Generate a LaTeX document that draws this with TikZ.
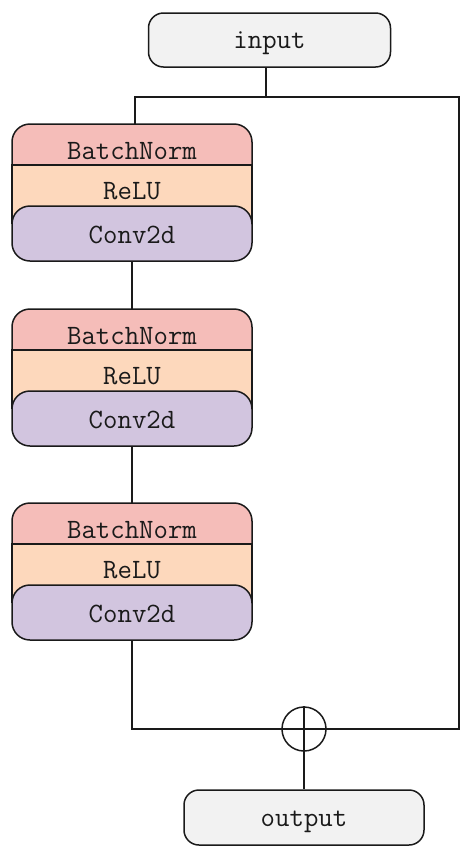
\documentclass[tikz,border=0pt]{standalone}
\usepackage{fontspec}
\definecolor{bnc}{HTML}{F5BDB9}
\definecolor{reluc}{HTML}{FDD8BC}
\definecolor{convc}{HTML}{D2C5DF}
\definecolor{ioc}{HTML}{F2F2F2}
\definecolor{linec}{HTML}{1A1A1A}
\tikzset{
  lbl/.style={font=\ttfamily\fontsize{28pt}{30pt}\selectfont, text=linec, inner sep=0pt, minimum width=240pt},
  iobox/.style={lbl, draw=linec, fill=ioc, rounded corners=15pt, line width=1.5pt},
  convbox/.style={lbl, draw=linec, fill=convc, rounded corners=18pt, line width=1.5pt, minimum height=55pt, text height=22pt, text depth=3pt},
  wire/.style={draw=linec, line width=1.5pt},
}
\newcommand\resblock[2]{%
  \draw[wire, fill=bnc, rounded corners=18pt] (12,#1) rectangle (252,#1+60);
  \fill[reluc] (12,#1+41) rectangle (252,#1+100);
  \draw[wire] (12,#1+100) -- (12,#1+41) -- (252,#1+41) -- (252,#1+100);
  \node[lbl, minimum height=41pt, text height=32pt, text depth=3pt] (bn#2) at (132,#1+20.5) {BatchNorm};
  \node[lbl, minimum height=41pt, text height=30pt, text depth=3pt] (relu#2) at (132,#1+61.5) {ReLU};
  \node[convbox] (conv#2) at (132,#1+109.5) {Conv2d};
}
\begin{document}
\begin{tikzpicture}[x=1pt,y=-1pt]
\useasboundingbox (0,0) rectangle (474,855);
\node[iobox, minimum width=242pt, minimum height=54pt, text height=22pt, text depth=6pt] (in) at (269.5,40) {input};
\resblock{124}{1}
\resblock{309}{2}
\resblock{503}{3}
\node[draw=linec, line width=1.5pt, circle, minimum size=44pt, inner sep=0pt] (sum) at (304,729) {};
\node[iobox, minimum width=240pt, minimum height=55pt, text height=23pt, text depth=6pt] (out) at (304,817.5) {output};
\coordinate (rt) at (459,97);
\coordinate (rb) at (459,729);
\draw[wire] ([xshift=-3.5pt]in.south) -- ([xshift=-3.5pt]in.south |- rt);
\draw[wire] ([xshift=3pt]bn1.north) |- (rt) -- (rb) -- (conv3.south |- rb) -- (conv3.south);
\draw[wire] (conv1.south) -- (bn2.north);
\draw[wire] (conv2.south) -- (bn3.north);
\draw[wire] (sum.north) -- (out.north);
\end{tikzpicture}
\end{document}
